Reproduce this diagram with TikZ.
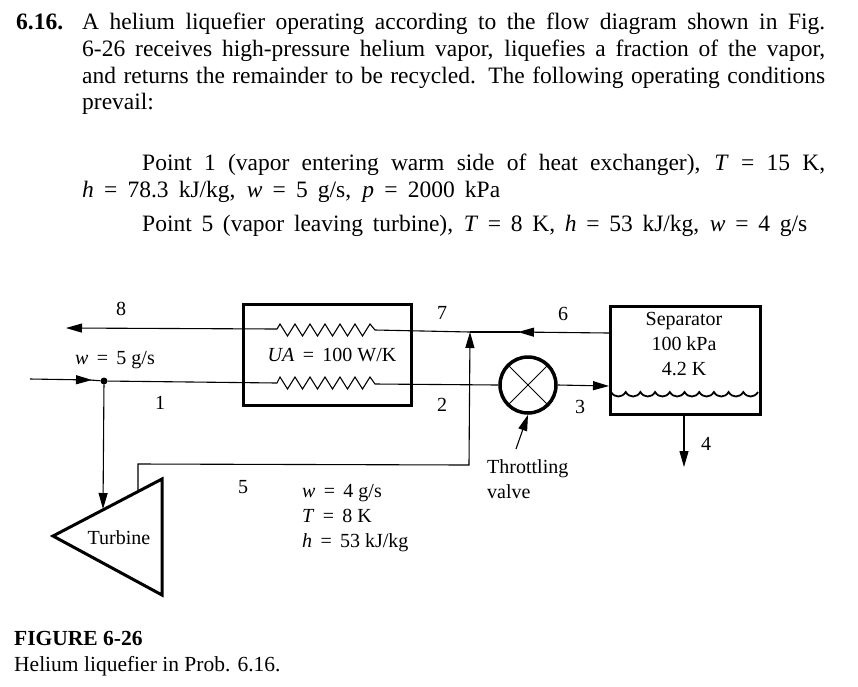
\documentclass[tikz,border=0pt]{standalone}
\usepackage{fontspec}
\setmainfont{Liberation Serif}
\usetikzlibrary{
	arrows.meta,
	calc,
	positioning
}
\tikzset{
	Flow-Arrow/.style={-{Triangle[length=16pt,width=9pt]},line width=1.1pt},
	Flow-Line/.style={line width=1.1pt},
	Heavy-Box/.style={rectangle,draw,line width=3pt,inner sep=0pt},
	Dia-Text/.style={font=\fontsize{20}{25}\selectfont,inner sep=0pt},
	Body-Text/.style={font=\fontsize{23.5}{27}\selectfont,inner sep=0pt,anchor=base west},
	junction/.style={circle,fill,inner sep=0pt,minimum size=7pt}
}
\newcommand{\bodyline}[2]{\makebox[#1pt][s]{#2}}

\begin{document}
\begin{tikzpicture}[x=1pt,y=-1pt]
	\useasboundingbox (0,0) rectangle (858,686);
	% problem statement
	\node[Body-Text] (probNo) at (16,29) {\textbf{6.16.}};
	\node[Body-Text] (lineA) at (82,29) {\bodyline{743}{A helium liquefier operating according to the flow diagram shown in Fig.}};
	\node[Body-Text] (lineB) at (82,56) {\bodyline{743}{6-26 receives high-pressure helium vapor, liquefies a fraction of the vapor,}};
	\node[Body-Text] (lineC) at (82,83) {\bodyline{743}{and returns the remainder to be recycled. The following operating conditions}};
	\node[Body-Text] (lineD) at (82,109) {prevail:};
	\node[Body-Text] (lineE) at (142,170) {\bodyline{683}{Point 1 (vapor entering warm side of heat exchanger), \textit{T} = 15 K,}};
	\node[Body-Text] (lineF) at (82,197) {\bodyline{418}{\textit{h} = 78.3 kJ/kg, \textit{w} = 5 g/s, \textit{p} = 2000 kPa}};
	\node[Body-Text] (lineG) at (142,231) {\bodyline{665}{Point 5 (vapor leaving turbine), \textit{T} = 8 K, \textit{h} = 53 kJ/kg, \textit{w} = 4 g/s}};
	% equipment
	\node[Heavy-Box,minimum width=168pt,minimum height=101pt] (hx) at (327,355) {};
	\node[Dia-Text] (hxText) at (332,355) {\textit{UA} \,=\, 100 W/K};
	\node[Heavy-Box,minimum width=150pt,minimum height=108pt] (sep) at (685,360) {};
	\node[Dia-Text,align=center,anchor=north] (sepText) at (684,312) {Separator\\100 kPa\\4.2 K};
	\node[circle,draw,line width=3.5pt,minimum size=56pt,inner sep=0pt] (valve) at (528,385) {};
	\draw[line width=0.8pt] (valve.45) -- (valve.225) (valve.135) -- (valve.315);
	\coordinate (turbL) at (53,536);
	\coordinate (turbT) at (162,479);
	\coordinate (turbB) at (162,595);
	\draw[line width=3pt,line join=miter] (turbL) -- (turbT) -- (turbB) -- cycle;
	\node[Dia-Text] (turbText) at (119,538) {Turbine};
	% named ends of the streams
	\coordinate (feed) at (30,379);
	\node[junction] (split) at (104,381) {};
	\coordinate (out8) at (66,328);
	\coordinate (zigA) at (277,329);
	\coordinate (zigB) at (277,383);
	\coordinate (zigC) at (375,330);
	\coordinate (zigD) at (375,384);
	\coordinate (mix) at (470,332);
	\coordinate (sepOut) at (609,333);
	\coordinate (sepIn) at (609,386);
	\coordinate (turbIn) at (103,509);
	\coordinate (turbOut) at (138,491);
	\coordinate (drain) at (684,467);
	\coordinate (valveTail) at (516,449);
	% hot and cold coils
	\draw[Flow-Arrow] (zigA) -- (out8);
	\draw[Flow-Line] (zigA) -- ++(3,-5)
		\foreach \k in {1,...,6} { -- ++(7.5,12) -- ++(7.5,-12) } -- (zigC) -- (mix);
	\draw[Flow-Line] (split) -- (zigB) -- ++(3,-6)
		\foreach \k in {1,...,6} { -- ++(7.5,12) -- ++(7.5,-12) } -- (zigD) -- (valve.west);
	% streams
	\draw[Flow-Arrow] (feed) -- (92,380);
	\draw[Flow-Line] (90,380) -- (split);
	\draw[Flow-Arrow] (split) -- (turbIn);
	\draw[Flow-Arrow] (sepOut) -- (518,332);
	\draw[Flow-Line] (520,332) -- (mix);
	\draw[Flow-Arrow] (turbOut) -- (138,464) -- (469,465) -- (mix);
	\draw[Flow-Arrow] (valve.east) -- (sepIn);
	\draw[Flow-Arrow] (valveTail) -- (valve.south);
	\draw[Flow-Arrow] (sep.south -| drain) -- (drain);
	% liquid level
	\draw[line width=1.8pt] (611,392)
		\foreach \k in {1,...,10} { .. controls +(3.5,6) and +(-3.5,6) .. ++(14.7,0) };
	% stream labels
	\node[Dia-Text] (lab8) at (121,309) {8};
	\node[Dia-Text] (lab7) at (442,313) {7};
	\node[Dia-Text] (lab6) at (563,314) {6};
	\node[Dia-Text] (lab1) at (160,403) {1};
	\node[Dia-Text] (lab2) at (442,405) {2};
	\node[Dia-Text] (lab3) at (580,407) {3};
	\node[Dia-Text] (lab4) at (706,444) {4};
	\node[Dia-Text] (lab5) at (243,487) {5};
	\node[Dia-Text] (feedText) at (115,360) {\textit{w} \,=\, 5 g/s};
	\node[Dia-Text,align=left,anchor=north west] (turbData) at (302,484) {\textit{w} \,=\, 4 g/s\\\textit{T} \,=\, 8 K\\\textit{h} \,=\, 53 kJ/kg};
	\node[Dia-Text,align=left,anchor=north west] (valveText) at (487,459) {Throttling\\valve};
	% caption
	\node[Body-Text,font=\fontsize{21.5}{25}\selectfont\bfseries] (capA) at (14,645) {FIGURE 6-26};
	\node[Body-Text,font=\fontsize{21.5}{25}\selectfont] (capB) at (14,671) {Helium liquefier in Prob. 6.16.};
\end{tikzpicture}
\end{document}
